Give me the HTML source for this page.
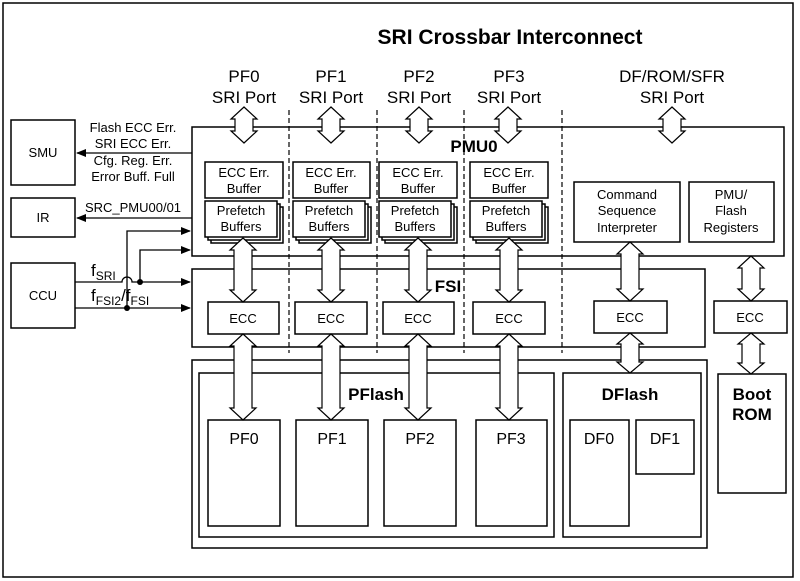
<!DOCTYPE html>
<html><head><meta charset="utf-8"><style>
body{margin:0;background:#fff}
svg{display:block;font-family:"Liberation Sans",Arial,sans-serif}
</style></head><body>
<svg width="800" height="581" viewBox="0 0 800 581" xmlns="http://www.w3.org/2000/svg">
<defs>
<marker id="ah" markerWidth="10" markerHeight="8" refX="9" refY="4" orient="auto" markerUnits="userSpaceOnUse">
<path d="M0,0 L10,4 L0,8 z" fill="#000"/></marker>
</defs>
<rect x="3" y="3" width="790" height="574" fill="none" stroke="#000" stroke-width="1.5"/>
<text x="510" y="44" font-size="21" font-weight="bold" text-anchor="middle">SRI Crossbar Interconnect</text>
<g font-size="17" text-anchor="middle">
<text x="244" y="82">PF0</text><text x="244" y="103">SRI Port</text>
<text x="331" y="82">PF1</text><text x="331" y="103">SRI Port</text>
<text x="419" y="82">PF2</text><text x="419" y="103">SRI Port</text>
<text x="509" y="82">PF3</text><text x="509" y="103">SRI Port</text>
<text x="672" y="82">DF/ROM/SFR</text><text x="672" y="103">SRI Port</text>
</g>
<g fill="none" stroke="#000" stroke-width="1.5">
<rect x="11" y="120" width="64" height="65"/>
<rect x="11" y="198" width="64" height="39"/>
<rect x="11" y="263" width="64" height="65"/>
<rect x="192" y="127" width="592" height="129"/>
<rect x="192" y="269" width="513" height="78"/>
<rect x="192" y="360" width="515" height="188"/>
<rect x="199" y="373" width="355" height="164"/>
<rect x="563" y="373" width="138" height="164"/>
<rect x="208" y="420" width="72" height="106"/>
<rect x="296" y="420" width="72" height="106"/>
<rect x="384" y="420" width="72" height="106"/>
<rect x="476" y="420" width="71" height="106"/>
<rect x="570" y="420" width="59" height="106"/>
<rect x="636" y="420" width="58" height="54"/>
<rect x="718" y="374" width="68" height="119"/>
<rect x="574" y="182" width="106" height="60"/>
<rect x="689" y="182" width="85" height="60"/>
<rect x="594" y="301" width="73" height="32"/>
<rect x="714" y="301" width="73" height="32"/>
</g>
<g font-size="13" text-anchor="middle">
<text x="43" y="157">SMU</text><text x="43" y="222">IR</text><text x="43" y="300">CCU</text>
<text x="133" y="132">Flash ECC Err.</text>
<text x="133" y="148">SRI ECC Err.</text>
<text x="133" y="165">Cfg. Reg. Err.</text>
<text x="133" y="181">Error Buff. Full</text>
<text x="133" y="212">SRC_PMU00/01</text>
<text x="627" y="199">Command</text><text x="627" y="215">Sequence</text><text x="627" y="232">Interpreter</text>
<text x="731" y="199">PMU/</text><text x="731" y="215">Flash</text><text x="731" y="232">Registers</text>
<text x="630" y="322">ECC</text><text x="750" y="322">ECC</text>
</g>
<g font-size="16" text-anchor="middle">
<text x="244" y="444">PF0</text><text x="332" y="444">PF1</text><text x="420" y="444">PF2</text><text x="511" y="444">PF3</text>
<text x="599" y="444">DF0</text><text x="665" y="444">DF1</text>
</g>
<g font-size="17" font-weight="bold" text-anchor="middle">
<text x="376" y="400">PFlash</text><text x="630" y="400">DFlash</text>
<text x="752" y="400">Boot</text><text x="752" y="420">ROM</text>
<text x="474" y="152">PMU0</text><text x="448" y="292">FSI</text>
</g>
<g stroke="#000" stroke-width="1.2" stroke-dasharray="5,3">
<line x1="289" y1="110" x2="289" y2="353"/>
<line x1="377" y1="110" x2="377" y2="353"/>
<line x1="464" y1="110" x2="464" y2="353"/>
<line x1="562" y1="110" x2="562" y2="353"/>
</g>
<g fill="#fff" stroke="#000" stroke-width="1.5">
<rect x="205" y="162" width="78" height="36"/>
<rect x="293" y="162" width="77" height="36"/>
<rect x="379" y="162" width="78" height="36"/>
<rect x="470" y="162" width="78" height="36"/>
<rect x="211" y="207" width="72" height="36"/><rect x="208" y="204" width="72" height="36"/><rect x="205" y="201" width="72" height="36"/>
<rect x="299" y="207" width="72" height="36"/><rect x="296" y="204" width="72" height="36"/><rect x="293" y="201" width="72" height="36"/>
<rect x="385" y="207" width="72" height="36"/><rect x="382" y="204" width="72" height="36"/><rect x="379" y="201" width="72" height="36"/>
<rect x="476" y="207" width="72" height="36"/><rect x="473" y="204" width="72" height="36"/><rect x="470" y="201" width="72" height="36"/>
<rect x="208" y="302" width="71" height="32"/>
<rect x="295" y="302" width="72" height="32"/>
<rect x="383" y="302" width="71" height="32"/>
<rect x="473" y="302" width="72" height="32"/>
</g>
<g font-size="13" text-anchor="middle">
<text x="244" y="177">ECC Err.</text><text x="244" y="193">Buffer</text>
<text x="331" y="177">ECC Err.</text><text x="331" y="193">Buffer</text>
<text x="418" y="177">ECC Err.</text><text x="418" y="193">Buffer</text>
<text x="509" y="177">ECC Err.</text><text x="509" y="193">Buffer</text>
<text x="241" y="215">Prefetch</text><text x="241" y="231">Buffers</text>
<text x="329" y="215">Prefetch</text><text x="329" y="231">Buffers</text>
<text x="415" y="215">Prefetch</text><text x="415" y="231">Buffers</text>
<text x="506" y="215">Prefetch</text><text x="506" y="231">Buffers</text>
<text x="243" y="323">ECC</text><text x="331" y="323">ECC</text><text x="418" y="323">ECC</text><text x="509" y="323">ECC</text>
</g>
<g fill="#fff" stroke="#000" stroke-width="1.2">
<polygon points="244,107 257,119 253,119 253,131 257,131 244,143 231,131 235,131 235,119 231,119"/>
<polygon points="331,107 344,119 340,119 340,131 344,131 331,143 318,131 322,131 322,119 318,119"/>
<polygon points="419,107 432,119 428,119 428,131 432,131 419,143 406,131 410,131 410,119 406,119"/>
<polygon points="508,107 521,119 517,119 517,131 521,131 508,143 495,131 499,131 499,119 495,119"/>
<polygon points="672,107 685,119 681,119 681,131 685,131 672,143 659,131 663,131 663,119 659,119"/>
<polygon points="243,238 256,250 252,250 252,290 256,290 243,302 230,290 234,290 234,250 230,250"/>
<polygon points="331,238 344,250 340,250 340,290 344,290 331,302 318,290 322,290 322,250 318,250"/>
<polygon points="418,238 431,250 427,250 427,290 431,290 418,302 405,290 409,290 409,250 405,250"/>
<polygon points="509,238 522,250 518,250 518,290 522,290 509,302 496,290 500,290 500,250 496,250"/>
<polygon points="243,334 256,346 252,346 252,408 256,408 243,420 230,408 234,408 234,346 230,346"/>
<polygon points="331,334 344,346 340,346 340,408 344,408 331,420 318,408 322,408 322,346 318,346"/>
<polygon points="418,334 431,346 427,346 427,408 431,408 418,420 405,408 409,408 409,346 405,346"/>
<polygon points="509,334 522,346 518,346 518,408 522,408 509,420 496,408 500,408 500,346 496,346"/>
<polygon points="630,242 643,254 639,254 639,289 643,289 630,301 617,289 621,289 621,254 617,254"/>
<polygon points="630,333 643,344 639,344 639,362 643,362 630,373 617,362 621,362 621,344 617,344"/>
<polygon points="751,256 764,268 760,268 760,289 764,289 751,301 738,289 742,289 742,268 738,268"/>
<polygon points="751,333 764,344 760,344 760,363 764,363 751,374 738,363 742,363 742,344 738,344"/>
</g>
<g stroke="#000" stroke-width="1.3" fill="none">
<line x1="192" y1="153" x2="77" y2="153" marker-end="url(#ah)"/>
<line x1="192" y1="218" x2="77" y2="218" marker-end="url(#ah)"/>
<polyline points="127,308 127,231 190,231" marker-end="url(#ah)"/>
<polyline points="140,282 140,250 190,250" marker-end="url(#ah)"/>
<path d="M75,282 L122,282 A5,5 0 0 1 132,282 L190,282" marker-end="url(#ah)"/>
<line x1="75" y1="308" x2="190" y2="308" marker-end="url(#ah)"/>
</g>
<circle cx="140" cy="282" r="3" fill="#000"/>
<circle cx="127" cy="308" r="3" fill="#000"/>
<text x="91" y="276" font-size="17">f<tspan font-size="12" dy="4">SRI</tspan></text>
<text x="91" y="301" font-size="17">f<tspan font-size="12" dy="4">FSI2</tspan><tspan dy="-4">/f</tspan><tspan font-size="12" dy="4">FSI</tspan></text>
</svg>
</body></html>
